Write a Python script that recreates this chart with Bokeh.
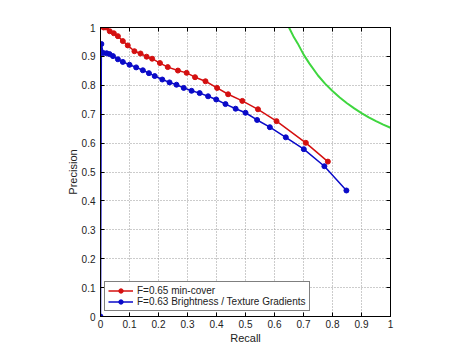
from bokeh.plotting import figure
from bokeh.models import Range1d, FixedTicker, LinearAxis, Legend, LegendItem
from bokeh.embed import file_html
from bokeh.resources import INLINE

# ---- data ----
red_recall = [0.011, 0.02, 0.032, 0.046, 0.06, 0.077, 0.094, 0.117, 0.138, 0.159,
              0.178, 0.205, 0.232, 0.267, 0.297, 0.326, 0.362, 0.402, 0.44, 0.489,
              0.543, 0.607, 0.708, 0.784]
red_precision = [1.0, 1.0, 0.987, 0.98, 0.97, 0.953, 0.938, 0.918, 0.91, 0.899,
                 0.892, 0.877, 0.863, 0.851, 0.843, 0.828, 0.814, 0.791, 0.769, 0.746,
                 0.717, 0.676, 0.601, 0.536]

blue_recall = [0.0, 0.003, 0.009, 0.021, 0.031, 0.043, 0.06, 0.077, 0.1, 0.123,
               0.146, 0.167, 0.187, 0.213, 0.238, 0.262, 0.287, 0.314, 0.342, 0.371,
               0.399, 0.431, 0.466, 0.5, 0.54, 0.584, 0.639, 0.701, 0.772, 0.848]
blue_precision = [0.0, 0.943, 0.912, 0.911, 0.908, 0.901, 0.89, 0.881, 0.871, 0.862,
                  0.852, 0.842, 0.832, 0.82, 0.81, 0.802, 0.791, 0.781, 0.773, 0.762,
                  0.751, 0.735, 0.719, 0.705, 0.68, 0.655, 0.62, 0.579, 0.52, 0.436]

green_recall = [0.65, 0.665, 0.68, 0.7, 0.72, 0.75, 0.775, 0.8, 0.825, 0.85,
                0.875, 0.9, 0.925, 0.95, 0.975, 1.0]
green_precision = [1.0, 0.97, 0.945, 0.907, 0.876, 0.834, 0.805, 0.78, 0.758, 0.738,
                   0.72, 0.704, 0.689, 0.676, 0.664, 0.653]

ticks = [0, 0.1, 0.2, 0.3, 0.4, 0.5, 0.6, 0.7, 0.8, 0.9, 1]
tick_labels = ["0", "0.1", "0.2", "0.3", "0.4", "0.5", "0.6", "0.7", "0.8", "0.9", "1"]

red_label = "F=0.65 min-cover"
blue_label = "F=0.63 Brightness / Texture Gradients"

RED = "#d41010"
BLUE = "#0a0ac8"
GREEN = "#3fd63f"
FONT = "Liberation Sans"

p = figure(width=466, height=352, output_backend="svg", toolbar_location=None,
           x_range=Range1d(0, 1), y_range=Range1d(0, 1),
           min_border_left=100, min_border_right=76, min_border_top=27, min_border_bottom=36)
p.outline_line_color = "black"
p.outline_line_width = 1
p.background_fill_color = "white"
p.border_fill_color = "white"

overrides = {t: l for t, l in zip(ticks, tick_labels)}
for ax in (p.xaxis[0], p.yaxis[0]):
    ax.ticker = FixedTicker(ticks=ticks)
    ax.major_label_overrides = overrides
    ax.major_tick_in = 4
    ax.major_tick_out = 0
    ax.minor_tick_in = 0
    ax.minor_tick_out = 0
    ax.axis_line_color = "black"
    ax.major_tick_line_color = "black"
    ax.major_label_text_font = FONT
    ax.major_label_text_font_size = "10px"
    ax.major_label_text_color = "#222222"
    ax.axis_label_text_font = FONT
    ax.axis_label_text_font_size = "11px"
    ax.axis_label_text_font_style = "normal"
    ax.axis_label_text_color = "#222222"

p.xaxis.major_label_standoff = 3
p.yaxis.major_label_standoff = 5
p.xaxis.axis_label = "Recall"
p.xaxis.axis_label_standoff = 1
p.yaxis.axis_label = "Precision"
p.yaxis.axis_label_standoff = 0

blank = {t: "" for t in ticks}
for loc in ("right", "above"):
    ax = LinearAxis(ticker=FixedTicker(ticks=ticks), major_tick_in=4, major_tick_out=0,
                    minor_tick_in=0, minor_tick_out=0, major_label_overrides=blank,
                    axis_line_color="black", major_tick_line_color="black")
    p.add_layout(ax, loc)

p.grid.ticker = FixedTicker(ticks=ticks)
for g in p.grid:
    g.grid_line_color = "#999999"
    g.grid_line_dash = "1 2"
    g.grid_line_width = 1

gl = p.line(green_recall, green_precision, line_color=GREEN, line_width=2)

rl = p.line(red_recall, red_precision, line_color=RED, line_width=1.5)
rs = p.scatter(red_recall, red_precision, marker="circle", size=5,
               fill_color=RED, line_color=RED)
bl = p.line(blue_recall, blue_precision, line_color=BLUE, line_width=1.5)
bs = p.scatter(blue_recall, blue_precision, marker="circle", size=5,
               fill_color=BLUE, line_color=BLUE)

legend = Legend(items=[LegendItem(label=red_label, renderers=[rl, rs]),
                       LegendItem(label=blue_label, renderers=[bl, bs])],
                location=(4, 5))
legend.label_text_font = FONT
legend.label_text_font_size = "10px"
legend.label_text_color = "#222222"
legend.border_line_color = "black"
legend.border_line_width = 1
legend.background_fill_alpha = 1
legend.glyph_width = 25
legend.glyph_height = 11
legend.label_height = 11
legend.label_standoff = 4
legend.padding = 3
legend.spacing = 0
legend.margin = 0
p.add_layout(legend, "center")

open("out.html", "w").write(file_html(p, INLINE))
